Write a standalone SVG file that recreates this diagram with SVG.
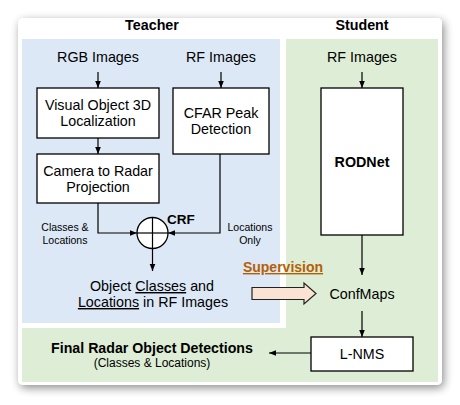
<svg xmlns="http://www.w3.org/2000/svg" width="460" height="405" viewBox="0 0 460 405">
<defs>
<filter id="sh" x="-10%" y="-10%" width="120%" height="120%">
<feGaussianBlur in="SourceAlpha" stdDeviation="5"/>
<feOffset dx="2" dy="3" result="b"/>
<feComponentTransfer><feFuncA type="linear" slope="0.45"/></feComponentTransfer>
<feMerge><feMergeNode/><feMergeNode in="SourceGraphic"/></feMerge>
</filter>
<marker id="ah" viewBox="0 0 10 10" refX="10" refY="5" markerWidth="7" markerHeight="7" markerUnits="userSpaceOnUse" orient="auto">
<path d="M0,1 L10,5 L0,9 Z" fill="#000"/>
</marker>
</defs>
<style>
text{font-family:"Liberation Sans",Arial,sans-serif;fill:#000}
.t{font-size:14.3px;text-anchor:middle}
.b{font-weight:bold}
.s{font-size:10.5px;text-anchor:middle}
.box{fill:#fff;stroke:#000;stroke-width:1.3}
.ln{fill:none;stroke:#000;stroke-width:1.2}
</style>
<rect x="18" y="18" width="424" height="367" rx="5" fill="#fff" filter="url(#sh)"/>
<rect x="22" y="39" width="258" height="284" fill="#dce8f6"/>
<path d="M286,39 H438 V382 H22 V328 H286 Z" fill="#deedd5"/>
<text class="t b" x="152" y="30">Teacher</text>
<text class="t b" x="362" y="30">Student</text>
<text class="t" x="98" y="62">RGB Images</text>
<text class="t" x="221" y="62">RF Images</text>
<text class="t" x="362" y="62">RF Images</text>
<g id="connectors">
<line class="ln" x1="98" y1="72" x2="98" y2="88" marker-end="url(#ah)"/>
<line class="ln" x1="221" y1="72" x2="221" y2="88" marker-end="url(#ah)"/>
<line class="ln" x1="362" y1="72" x2="362" y2="88" marker-end="url(#ah)"/>
<line class="ln" x1="98" y1="138" x2="98" y2="154" marker-end="url(#ah)"/>
<path class="ln" d="M98,203 V233 H137" marker-end="url(#ah)"/>
<path class="ln" d="M220,154 V233 H168" marker-end="url(#ah)"/>
<line class="ln" x1="152.5" y1="249" x2="152.5" y2="271" marker-end="url(#ah)"/>
<line class="ln" x1="362" y1="235" x2="362" y2="275" marker-end="url(#ah)"/>
<line class="ln" x1="362" y1="311" x2="362" y2="337" marker-end="url(#ah)"/>
<line class="ln" x1="311" y1="353" x2="269" y2="353" marker-end="url(#ah)"/>
</g>
<g id="vis3d">
<rect class="box" x="37" y="88" width="122" height="50"/>
<text class="t" x="98" y="110">Visual Object 3D</text>
<text class="t" x="98" y="126">Localization</text>
</g>
<g id="cam2radar">
<rect class="box" x="37" y="154" width="122" height="49"/>
<text class="t" x="98" y="176">Camera to Radar</text>
<text class="t" x="98" y="192">Projection</text>
</g>
<g id="cfar">
<rect class="box" x="173" y="88" width="96" height="66"/>
<text class="t" x="221" y="118">CFAR Peak</text>
<text class="t" x="221" y="134">Detection</text>
</g>
<g id="crf">
<circle cx="152.5" cy="233" r="15.5" fill="#fff" stroke="#000" stroke-width="1.3"/>
<line class="ln" x1="137" y1="233" x2="168" y2="233"/>
<line class="ln" x1="152.5" y1="217.5" x2="152.5" y2="248.5"/>
<text class="b" x="167" y="224" style="font-size:13.5px">CRF</text>
</g>
<text class="s" x="65" y="231">Classes &amp;</text>
<text class="s" x="65" y="244">Locations</text>
<text class="s" x="250" y="231">Locations</text>
<text class="s" x="250" y="244">Only</text>
<g id="objout">
<text class="t" x="152" y="291">Object <tspan text-decoration="underline">Classes</tspan> and</text>
<text class="t" x="153" y="307"><tspan text-decoration="underline">Locations</tspan> in RF Images</text>
</g>
<g id="supervision">
<text class="b" x="283" y="272" text-anchor="middle" text-decoration="underline" style="font-size:14px;fill:#b45f06">Supervision</text>
<path d="M252,287.5 H304 V283 L316,293.5 L304,304 V299.5 H252 Z" fill="#fbe3d3" stroke="#222" stroke-width="1.2"/>
</g>
<g id="rodnet">
<rect class="box" x="321" y="88" width="82" height="147"/>
<text class="t b" x="362" y="167">RODNet</text>
</g>
<g id="confmaps">
<text class="t" x="362" y="299">ConfMaps</text>
</g>
<g id="lnms">
<rect class="box" x="311" y="337" width="102" height="34"/>
<text class="t" x="362" y="359">L-NMS</text>
</g>
<g id="final">
<text class="t b" x="152" y="353" style="font-size:14.2px">Final Radar Object Detections</text>
<text class="s" x="152" y="367" style="font-size:12px">(Classes &amp; Locations)</text>
</g>
</svg>
